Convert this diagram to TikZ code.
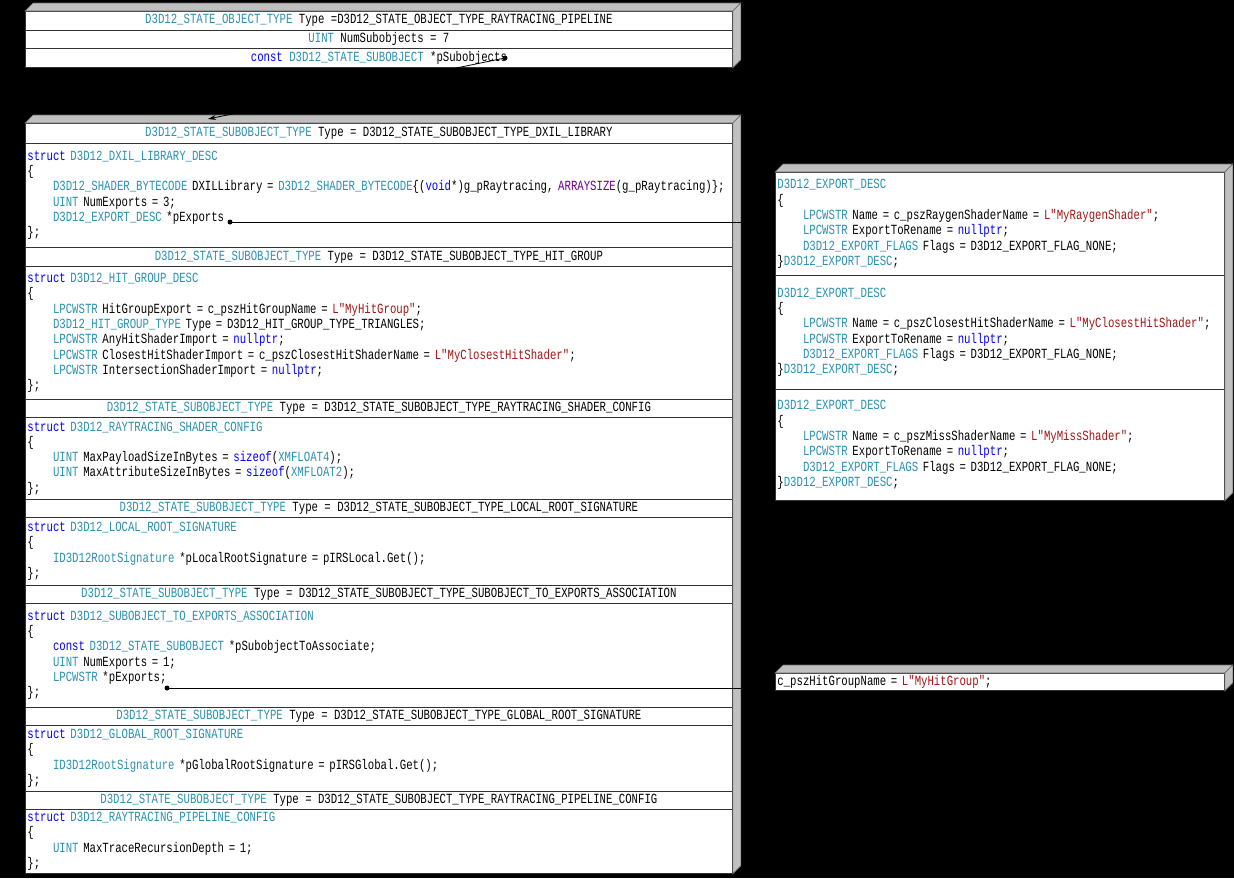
\documentclass[tikz,border=0pt]{standalone}
\usepackage{fontspec}
\newfontfamily\codefont[FakeStretch=0.762]{Liberation Mono}
\usepackage{tikz}
\usetikzlibrary{arrows.meta, calc, positioning}
\usepackage{xcolor}
\definecolor{typeteal}{RGB}{43,145,175}
\definecolor{keyblue}{RGB}{0,0,255}
\definecolor{strred}{RGB}{163,21,21}
\definecolor{macpurple}{RGB}{111,0,138}
\definecolor{sidegray}{RGB}{192,192,192}
\newcommand{\ty}[1]{\textcolor{typeteal}{#1}}
\newcommand{\kw}[1]{\textcolor{keyblue}{#1}}
\newcommand{\strn}[1]{\textcolor{strred}{#1}}
\newcommand{\mc}[1]{\textcolor{macpurple}{#1}}
\newcommand{\codeind}{\hspace*{25.6pt}}
% top and right faces of a record
\newcommand{\sidesthreed}[2]{%
  \filldraw[side] (#1) -- ++(8,-8) -- ($(#2 |- #1)+(8,-8)$) -- (#2 |- #1) -- cycle;
  \filldraw[side] (#2 |- #1) -- ++(8,-8) -- ($(#2)+(8,-8)$) -- (#2) -- cycle;}

\begin{document}
\begin{tikzpicture}[
    x=1pt, y=-1pt,
    hdr/.style={rectangle, draw=black!80, line width=0.8pt, fill=white, minimum width=707, minimum height=18, inner sep=0, anchor=north west, font=\codefont\fontsize{14}{15.3}\selectfont},
    body/.style={hdr, text width=703, align=left, inner xsep=2, inner ysep=0},
    side/.style={fill=sidegray, draw=black!60, line width=0.6pt},
    arrow/.style={-{Stealth[length=8pt, width=5pt]}, line width=0.8pt, black}
]
\fill[black] (0,0) rectangle (1234,878);
\useasboundingbox (0,0) rectangle (1234,878);

% State object
\node[hdr, minimum height=18.5] (objtype) at (25,11) {\ty{D3D12\_STATE\_OBJECT\_TYPE} Type =D3D12\_STATE\_OBJECT\_TYPE\_RAYTRACING\_PIPELINE};
\node[hdr] (numsub) at (25,29.5) {\ty{UINT} NumSubobjects = 7};
\node[hdr, minimum height=19.5] (psub) at (25,47.5) {\kw{const} \ty{D3D12\_STATE\_SUBOBJECT} *pSubobjects};
\sidesthreed{objtype.north west}{psub.south east}

% Subobjects
\node[hdr, minimum height=20] (hlib) at (25,123) {\ty{D3D12\_STATE\_SUBOBJECT\_TYPE} Type = D3D12\_STATE\_SUBOBJECT\_TYPE\_DXIL\_LIBRARY};
\node[body, minimum height=104] (blib) at (25,143) {\kw{struct} \ty{D3D12\_DXIL\_LIBRARY\_DESC}\\
\{\\
\codeind\ty{D3D12\_SHADER\_BYTECODE} DXILLibrary = \ty{D3D12\_SHADER\_BYTECODE}\{(\kw{void}*)g\_pRaytracing, \mc{ARRAYSIZE}(g\_pRaytracing)\};\\
\codeind\ty{UINT} NumExports = 3;\\
\codeind\ty{D3D12\_EXPORT\_DESC} *pExports\\
\};};

\node[hdr, minimum height=19] (hhit) at (25,247) {\ty{D3D12\_STATE\_SUBOBJECT\_TYPE} Type = D3D12\_STATE\_SUBOBJECT\_TYPE\_HIT\_GROUP};
\node[body, minimum height=133] (bhit) at (25,266) {\kw{struct} \ty{D3D12\_HIT\_GROUP\_DESC}\\
\{\\
\codeind\ty{LPCWSTR} HitGroupExport = c\_pszHitGroupName = \strn{L"MyHitGroup"};\\
\codeind\ty{D3D12\_HIT\_GROUP\_TYPE} Type = D3D12\_HIT\_GROUP\_TYPE\_TRIANGLES;\\
\codeind\ty{LPCWSTR} AnyHitShaderImport = \kw{nullptr};\\
\codeind\ty{LPCWSTR} ClosestHitShaderImport = c\_pszClosestHitShaderName = \strn{L"MyClosestHitShader"};\\
\codeind\ty{LPCWSTR} IntersectionShaderImport = \kw{nullptr};\\
\};};

\node[hdr] (hshd) at (25,399) {\ty{D3D12\_STATE\_SUBOBJECT\_TYPE} Type = D3D12\_STATE\_SUBOBJECT\_TYPE\_RAYTRACING\_SHADER\_CONFIG};
\node[body, minimum height=82] (bshd) at (25,417) {\kw{struct} \ty{D3D12\_RAYTRACING\_SHADER\_CONFIG}\\
\{\\
\codeind\ty{UINT} MaxPayloadSizeInBytes = \kw{sizeof}(\ty{XMFLOAT4});\\
\codeind\ty{UINT} MaxAttributeSizeInBytes = \kw{sizeof}(\ty{XMFLOAT2});\\
\};};

\node[hdr] (hloc) at (25,499) {\ty{D3D12\_STATE\_SUBOBJECT\_TYPE} Type = D3D12\_STATE\_SUBOBJECT\_TYPE\_LOCAL\_ROOT\_SIGNATURE};
\node[body, minimum height=68] (bloc) at (25,517) {\kw{struct} \ty{D3D12\_LOCAL\_ROOT\_SIGNATURE}\\
\{\\
\codeind\ty{ID3D12RootSignature} *pLocalRootSignature = pIRSLocal.Get();\\
\};};

\node[hdr] (hass) at (25,585) {\ty{D3D12\_STATE\_SUBOBJECT\_TYPE} Type = D3D12\_STATE\_SUBOBJECT\_TYPE\_SUBOBJECT\_TO\_EXPORTS\_ASSOCIATION};
\node[body, minimum height=104] (bass) at (25,603) {\kw{struct} \ty{D3D12\_SUBOBJECT\_TO\_EXPORTS\_ASSOCIATION}\\
\{\\
\codeind\kw{const} \ty{D3D12\_STATE\_SUBOBJECT} *pSubobjectToAssociate;\\
\codeind\ty{UINT} NumExports = 1;\\
\codeind\ty{LPCWSTR} *pExports;\\
\};};

\node[hdr] (hglo) at (25,707) {\ty{D3D12\_STATE\_SUBOBJECT\_TYPE} Type = D3D12\_STATE\_SUBOBJECT\_TYPE\_GLOBAL\_ROOT\_SIGNATURE};
\node[body, minimum height=66] (bglo) at (25,725) {\kw{struct} \ty{D3D12\_GLOBAL\_ROOT\_SIGNATURE}\\
\{\\
\codeind\ty{ID3D12RootSignature} *pGlobalRootSignature = pIRSGlobal.Get();\\
\};};

\node[hdr] (hcfg) at (25,791) {\ty{D3D12\_STATE\_SUBOBJECT\_TYPE} Type = D3D12\_STATE\_SUBOBJECT\_TYPE\_RAYTRACING\_PIPELINE\_CONFIG};
\node[body, minimum height=64] (bcfg) at (25,809) {\kw{struct} \ty{D3D12\_RAYTRACING\_PIPELINE\_CONFIG}\\
\{\\
\codeind\ty{UINT} MaxTraceRecursionDepth = 1;\\
\};};
\sidesthreed{hlib.north west}{bcfg.south east}

% Export descriptions
\node[body, minimum width=449, text width=445, minimum height=103] (exp1) at (775,172) {\ty{D3D12\_EXPORT\_DESC}\\
\{\\
\codeind\ty{LPCWSTR} Name = c\_pszRaygenShaderName = \strn{L"MyRaygenShader"};\\
\codeind\ty{LPCWSTR} ExportToRename = \kw{nullptr};\\
\codeind\ty{D3D12\_EXPORT\_FLAGS} Flags = D3D12\_EXPORT\_FLAG\_NONE;\\
\}\ty{D3D12\_EXPORT\_DESC};};
\node[body, minimum width=449, text width=445, minimum height=114] (exp2) at (775,275) {\ty{D3D12\_EXPORT\_DESC}\\
\{\\
\codeind\ty{LPCWSTR} Name = c\_pszClosestHitShaderName = \strn{L"MyClosestHitShader"};\\
\codeind\ty{LPCWSTR} ExportToRename = \kw{nullptr};\\
\codeind\ty{D3D12\_EXPORT\_FLAGS} Flags = D3D12\_EXPORT\_FLAG\_NONE;\\
\}\ty{D3D12\_EXPORT\_DESC};};
\node[body, minimum width=449, text width=445, minimum height=111] (exp3) at (775,389) {\ty{D3D12\_EXPORT\_DESC}\\
\{\\
\codeind\ty{LPCWSTR} Name = c\_pszMissShaderName = \strn{L"MyMissShader"};\\
\codeind\ty{LPCWSTR} ExportToRename = \kw{nullptr};\\
\codeind\ty{D3D12\_EXPORT\_FLAGS} Flags = D3D12\_EXPORT\_FLAG\_NONE;\\
\}\ty{D3D12\_EXPORT\_DESC};};
\sidesthreed{exp1.north west}{exp3.south east}

% Hit group name
\node[body, minimum width=449, text width=445, minimum height=17] (hgname) at (775,673) {c\_pszHitGroupName = \strn{L"MyHitGroup"};};
\sidesthreed{hgname.north west}{hgname.south east}

% Pointers
\coordinate (psubdot) at (505,58);
\coordinate (libtop) at (208,119);
\coordinate (expdot) at (230,222);
\coordinate (hgdot) at (167,688);
\draw[arrow] (psubdot) -- (libtop);
\draw[arrow] (expdot) -- (expdot -| exp1.west);
\draw[arrow] (hgdot) -- (hgdot -| hgname.west);
\fill (psubdot) circle (2.5pt);
\fill (expdot) circle (2.5pt);
\fill (hgdot) circle (2.5pt);

\end{tikzpicture}
\end{document}
